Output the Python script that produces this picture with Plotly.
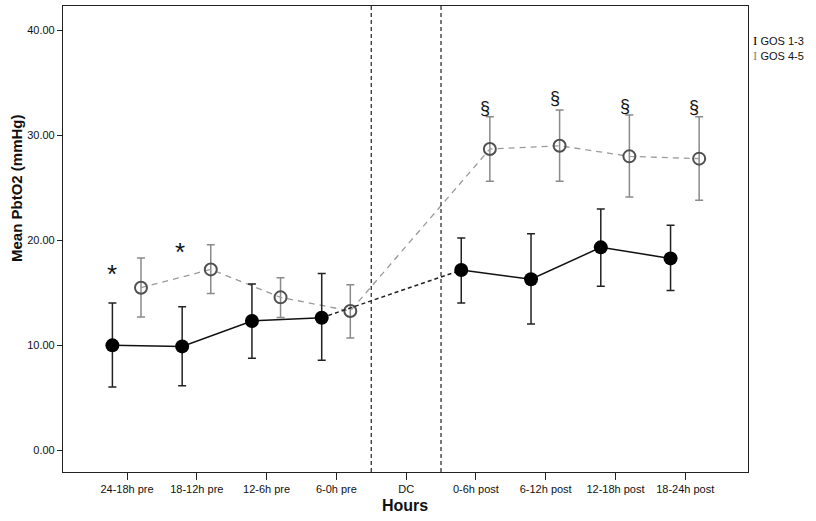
import plotly.graph_objects as go

categories = ["24-18h pre", "18-12h pre", "12-6h pre", "6-0h pre", "DC",
              "0-6h post", "6-12h post", "12-18h post", "18-24h post"]

gos13_mean = [9.97, 9.87, 12.29, 12.6, None, 17.14, 16.26, 19.3, 18.25]
gos13_upper = [14.0, 13.65, 15.8, 16.8, None, 20.2, 20.6, 22.95, 21.4]
gos13_lower = [6.0, 6.13, 8.73, 8.54, None, 14.0, 12.0, 15.6, 15.2]

gos45_mean = [15.46, 17.2, 14.54, 13.24, None, 28.67, 28.98, 27.97, 27.75]
gos45_upper = [18.29, 19.56, 16.4, 15.75, None, 31.75, 32.38, 31.9, 31.75]
gos45_lower = [12.67, 14.9, 12.63, 10.67, None, 25.6, 25.6, 24.1, 23.8]

star_idx = [0, 1]
star_y = [16.8, 18.9]
sect_idx = [5, 6, 7, 8]
sect_y = [32.6, 33.5, 32.8, 32.7]

OFF13 = -0.21
OFF45 = 0.2

# plot area in pixels
L, R, T, B = 63, 748, 6, 472

fig = go.Figure()


def pts(mean, up, lo, idxs, off):
    xs = [i + off for i in idxs]
    ys = [mean[i] for i in idxs]
    ep = [up[i] - mean[i] for i in idxs]
    em = [mean[i] - lo[i] for i in idxs]
    return xs, ys, ep, em


pre = [0, 1, 2, 3]
post = [5, 6, 7, 8]

# GOS 4-5 (gray, dashed, open circles)
allidx = pre + post
xs, ys, ep, em = pts(gos45_mean, gos45_upper, gos45_lower, allidx, OFF45)
fig.add_trace(go.Scatter(
    x=xs, y=ys, mode="lines+markers",
    line=dict(color="#9a9a9a", width=1.3, dash="6px,5px"),
    marker=dict(symbol="circle-open", size=12, color="#505050",
                line=dict(width=2, color="#505050")),
    error_y=dict(type="data", symmetric=False, array=ep, arrayminus=em,
                 color="#8a8a8a", thickness=1.5, width=4),
    showlegend=False, hoverinfo="skip"))

# GOS 1-3 connection dashed
xc = [3 + OFF13, 5 + OFF13]
yc = [gos13_mean[3], gos13_mean[5]]
fig.add_trace(go.Scatter(
    x=xc, y=yc, mode="lines",
    line=dict(color="#222222", width=1.5, dash="4px,3px"),
    showlegend=False, hoverinfo="skip"))

for idxs in (pre, post):
    xs, ys, ep, em = pts(gos13_mean, gos13_upper, gos13_lower, idxs, OFF13)
    fig.add_trace(go.Scatter(
        x=xs, y=ys, mode="lines+markers",
        line=dict(color="#111111", width=1.5),
        marker=dict(symbol="circle", size=14, color="#000000"),
        error_y=dict(type="data", symmetric=False, array=ep, arrayminus=em,
                     color="#222222", thickness=1.5, width=4),
        showlegend=False, hoverinfo="skip"))

# vertical dashed lines
for xv in (3.5, 4.5):
    fig.add_shape(type="line", x0=xv, x1=xv, y0=0, y1=1, yref="y domain",
                  line=dict(color="#222222", width=1.2, dash="4px,3px"))

# significance marks
for i, y in zip(star_idx, star_y):
    fig.add_annotation(x=i + OFF13 - (0.0 if i == 0 else 0.03), y=y, text="*",
                       showarrow=False, font=dict(size=26, color="#111111",
                                                  family="Liberation Sans"))
for i, y in zip(sect_idx, sect_y):
    fig.add_annotation(x=i + 0.13, y=y, text="§", showarrow=False,
                       font=dict(size=18, color="#111111", family="Liberation Sans"))


def py(p):
    return (B - p) / (B - T)


def px(p):
    return (p - L) / (R - L)


# legend via annotations
fig.add_annotation(xref="paper", yref="paper", x=px(751), y=py(40),
                   text="<span style='font-family:Liberation Serif;font-size:13px;color:#000'>I</span> GOS 1-3",
                   xanchor="left", yanchor="middle", showarrow=False,
                   font=dict(size=11, color="#111111", family="Liberation Sans"))
fig.add_annotation(xref="paper", yref="paper", x=px(751), y=py(55),
                   text="<span style='font-family:Liberation Serif;font-size:13px;color:#8a8a8a'>I</span> GOS 4-5",
                   xanchor="left", yanchor="middle", showarrow=False,
                   font=dict(size=11, color="#111111", family="Liberation Sans"))

# axis titles
fig.add_annotation(xref="paper", yref="paper", x=px(16), y=py(188),
                   text="<b>Mean PbtO2 (mmHg)</b>", textangle=-90,
                   showarrow=False, xanchor="center", yanchor="middle",
                   font=dict(size=15, color="#111111", family="Liberation Sans"))
fig.add_annotation(xref="paper", yref="paper", x=px(405), y=py(505),
                   text="<b>Hours</b>", showarrow=False,
                   xanchor="center", yanchor="middle",
                   font=dict(size=16, color="#111111", family="Liberation Sans"))

fig.update_layout(
    width=816, height=521,
    margin=dict(l=L, r=816 - R, t=T, b=521 - B),
    paper_bgcolor="white", plot_bgcolor="white",
    font=dict(family="Liberation Sans, Arial", size=11, color="#111111"),
    xaxis=dict(range=[-0.918, 8.9], tickvals=list(range(len(categories))),
               ticktext=categories, ticks="outside", ticklen=7,
               tickcolor="#222222", tickwidth=1.2, automargin=False,
               showline=True, linecolor="#222222", linewidth=1.2, mirror=True,
               showgrid=False, zeroline=False,
               tickfont=dict(size=11, color="#111111")),
    yaxis=dict(range=[-2.095, 42.29], tickvals=[0, 10, 20, 30, 40],
               ticktext=["0.00", "10.00", "20.00", "30.00", "40.00"],
               ticks="outside", ticklen=5, tickcolor="#222222", tickwidth=1.2,
               automargin=False,
               showline=True, linecolor="#222222", linewidth=1.2, mirror=True,
               showgrid=False, zeroline=False,
               tickfont=dict(size=11, color="#111111")),
)

fig.write_html("out.html", config={"displayModeBar": False},
               post_script="document.body.style.margin='0px';document.body.style.overflow='hidden';")
